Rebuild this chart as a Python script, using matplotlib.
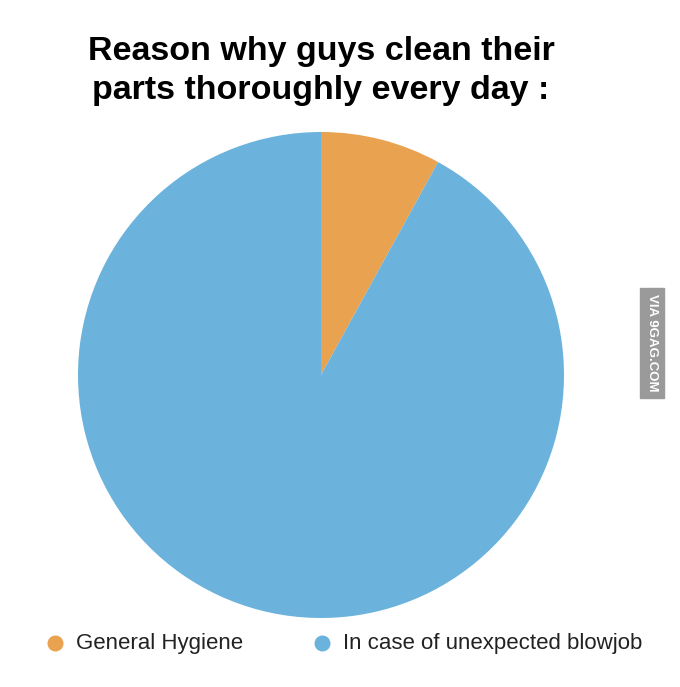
import matplotlib
matplotlib.use("Agg")
import matplotlib.pyplot as plt
from matplotlib.lines import Line2D
from matplotlib.patches import Rectangle

title = "Reason why guys clean their\nparts thoroughly every day :"
labels = ["General Hygiene", "In case of unexpected blowjob"]
values = [8, 92]
colors = ["#E9A24F", "#6BB3DC"]

W, H = 680, 687
FONT = ["Liberation Sans", "DejaVu Sans"]
fig = plt.figure(figsize=(W / 100, H / 100), dpi=100)
fig.patch.set_facecolor("white")

# pie axes: center (321, 375), radius 243 px
cx, cy, r = 321, 375, 243
ax = fig.add_axes([(cx - r) / W, (H - cy - r) / H, 2 * r / W, 2 * r / H])
ax.pie(values, colors=colors, startangle=90, counterclock=False, radius=1,
       wedgeprops=dict(linewidth=0))
ax.set_xlim(-1, 1)
ax.set_ylim(-1, 1)
ax.set_aspect("equal")
ax.axis("off")

fig.text(321 / W, 1 - 71 / H, title, ha="center", va="center",
         fontsize=24.5, fontweight="bold", family=FONT, linespacing=1.3)

# legend drawn by hand: dot + label
legend_x = [55, 322]
legend_y = 1 - 643 / H
for x, lab, c in zip(legend_x, labels, colors):
    fig.add_artist(Line2D([x / W], [legend_y], marker="o", linestyle="",
                          markersize=10.5, markerfacecolor=c, markeredgecolor=c,
                          transform=fig.transFigure))
    fig.text((x + 21) / W, legend_y, lab, ha="left", va="center",
             fontsize=16, family=FONT, color="#222222")

# watermark
fig.patches.append(Rectangle((640 / W, 1 - 398 / H), 24 / W, 110 / H,
                             transform=fig.transFigure, color="#9A9A9A"))
fig.text(652 / W, 1 - 343 / H, "VIA 9GAG.COM", rotation=-90, ha="center", va="center",
         color="white", fontsize=9.5, fontweight="bold", family=FONT)

fig.savefig("out.png", dpi=100)
